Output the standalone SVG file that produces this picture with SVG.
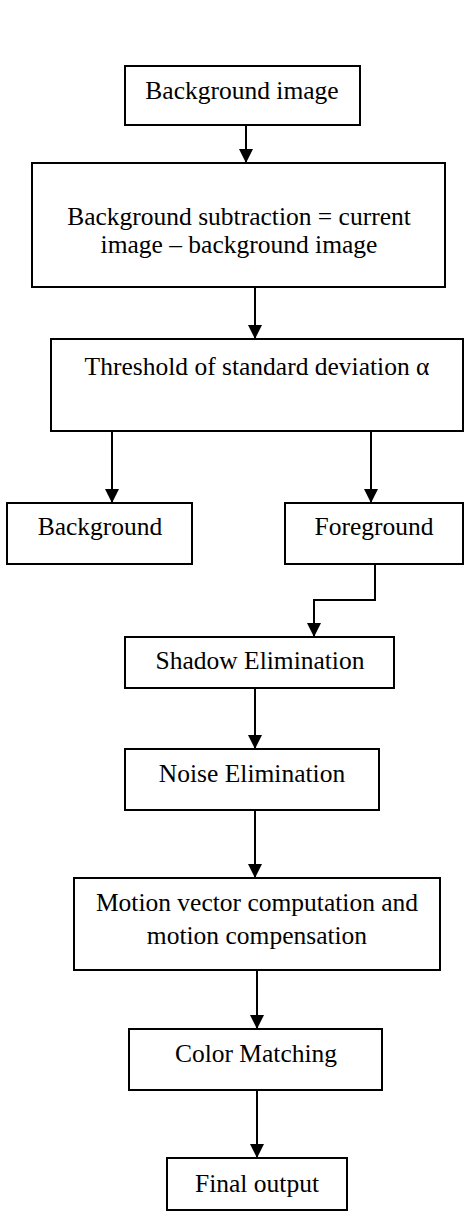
<svg xmlns="http://www.w3.org/2000/svg" width="474" height="1228" viewBox="0 0 474 1228">
<style>
rect{fill:#fff;stroke:#000;stroke-width:2}
text{font-family:"Liberation Serif","Times New Roman",serif;font-size:25.5px;fill:#000;text-anchor:middle}
.c path{fill:none;stroke:#000;stroke-width:2}
</style>
<defs>
<marker id="ah" markerUnits="userSpaceOnUse" markerWidth="14" markerHeight="14" viewBox="0 0 14 14" refX="14" refY="7" orient="auto">
<path d="M0,0 L14,7 L0,14 Z" fill="#000"/>
</marker>
</defs>
<rect width="474" height="1228" fill="#fff" stroke="none" style="stroke:none"/>
<g id="n1"><rect x="125" y="66" width="235" height="59"/><text x="242" y="99">Background image</text></g>
<g id="n2"><rect x="32" y="163" width="413" height="124"/><text x="239" y="225">Background subtraction = current</text><text x="239" y="253">image – background image</text></g>
<g id="n3"><rect x="51" y="339" width="412" height="92"/><text x="257" y="375">Threshold of standard deviation α</text></g>
<g id="n4"><rect x="7" y="503" width="185" height="61"/><text x="100" y="535">Background</text></g>
<g id="n5"><rect x="285" y="503" width="178" height="61"/><text x="374" y="535">Foreground</text></g>
<g id="n6"><rect x="125" y="637" width="269" height="51"/><text x="260" y="669">Shadow Elimination</text></g>
<g id="n7"><rect x="125" y="749" width="254" height="61"/><text x="252" y="782">Noise Elimination</text></g>
<g id="n8"><rect x="74" y="878" width="366" height="92"/><text x="257" y="911">Motion vector computation and</text><text x="257" y="944">motion compensation</text></g>
<g id="n9"><rect x="129" y="1029" width="253" height="61"/><text x="256" y="1062">Color Matching</text></g>
<g id="n10"><rect x="167" y="1158" width="180" height="52"/><text x="257" y="1192">Final output</text></g>
<g class="c" id="connectors">
<path d="M246,125 V163" marker-end="url(#ah)"/>
<path d="M255,287 V339" marker-end="url(#ah)"/>
<path d="M112,431 V503" marker-end="url(#ah)"/>
<path d="M371,431 V503" marker-end="url(#ah)"/>
<path d="M375,564 V600 H314 V637" marker-end="url(#ah)"/>
<path d="M255,688 V749" marker-end="url(#ah)"/>
<path d="M255,810 V878" marker-end="url(#ah)"/>
<path d="M257,970 V1029" marker-end="url(#ah)"/>
<path d="M257,1090 V1158" marker-end="url(#ah)"/>
</g>
</svg>
